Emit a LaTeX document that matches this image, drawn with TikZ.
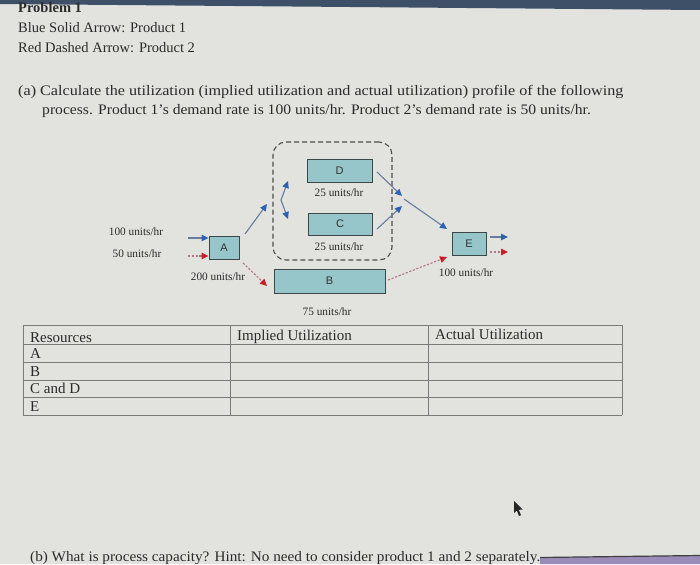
\documentclass[tikz,border=0pt]{standalone}
\usepackage{fontspec}
\setmainfont{Liberation Serif}
\newfontfamily\boxfont{Liberation Sans}
\newfontfamily\stretchA[FakeStretch=1.115]{Liberation Serif}
\newfontfamily\stretchB[FakeStretch=1.077]{Liberation Serif}
\newfontfamily\stretchC[FakeStretch=1.05]{Liberation Serif}
\usetikzlibrary{arrows.meta}
\definecolor{bgc}{HTML}{E2E2DF}
\definecolor{bandc}{HTML}{3E5068}
\definecolor{boxfill}{HTML}{96C6C9}
\definecolor{boxline}{HTML}{3C4848}
\definecolor{shaftblue}{HTML}{687C9C}
\definecolor{tipblue}{HTML}{2C63B0}
\definecolor{shaftred}{HTML}{B07880}
\definecolor{tipred}{HTML}{C81E28}
\definecolor{tabline}{HTML}{7A7A7A}
\definecolor{txt}{HTML}{2A2A2A}
\definecolor{purp}{HTML}{9A8CB8}
\tikzset{
  mainfont/.style={font=\fontsize{14.5}{17}\selectfont, text=txt, inner sep=0pt},
  tabfont/.style={font=\fontsize{15}{18}\selectfont, text=txt, inner sep=0pt, anchor=base west},
  lab/.style={font=\fontsize{11.3}{13}\selectfont, text=txt, inner sep=0pt},
  stbox/.style={draw=boxline, fill=boxfill, line width=1pt, inner sep=0pt,
    font=\boxfont\fontsize{11}{13}\selectfont, text=black!80},
  pone/.style={draw=shaftblue, line width=1.1pt, -{Triangle[length=7pt,width=6.5pt,color=tipblue]}},
  ptwo/.style={draw=shaftred, line width=1.1pt, dash pattern=on 2.2pt off 1.6pt,
    -{Triangle[length=7pt,width=6.5pt,color=tipred]}},
  tabrule/.style={draw=tabline, line width=0.8pt}
}
\begin{document}
\begin{tikzpicture}[x=1pt,y=-1pt]
\useasboundingbox (0,0) rectangle (700,564);
\fill[bgc] (0,0) rectangle (700,564);
\fill[bandc] (0,0) -- (700,0) -- (700,10) -- (0,4) -- cycle;

% header texts
\node[mainfont, anchor=base west, font=\bfseries\fontsize{14.5}{17}\selectfont] (t0) at (18,13) {Problem 1};
\node[mainfont, anchor=base west] (t1) at (18,33) {Blue Solid Arrow: Product 1};
\node[mainfont, anchor=base west] (t2) at (18,53) {Red Dashed Arrow: Product 2};
\node[mainfont, anchor=base west, font=\stretchA\fontsize{14.5}{17}\selectfont] (t3) at (18,96) {(a) Calculate the utilization (implied utilization and actual utilization) profile of the following};
\node[mainfont, anchor=base west, font=\stretchB\fontsize{14.5}{17}\selectfont] (t4) at (42,115) {process. Product 1’s demand rate is 100 units/hr. Product 2’s demand rate is 50 units/hr.};

% diagram
\node[draw=black!70, line width=1.1pt, dash pattern=on 5pt off 3pt, rounded corners=13pt,
  minimum width=119pt, minimum height=118pt, inner sep=0pt] (CD) at (332.5,201) {};
\node[stbox, minimum width=65pt, minimum height=23pt] (D) at (339.5,170.5) {D};
\node[stbox, minimum width=64pt, minimum height=22pt] (C) at (340,224) {C};
\node[stbox, minimum width=111pt, minimum height=24pt] (B) at (329.5,281) {B};
\node[stbox, minimum width=30pt, minimum height=23pt] (A) at (224,247.5) {A};
\node[stbox, minimum width=34pt, minimum height=23pt] (E) at (469,243.5) {E};

\node[lab] (l1) at (136,232) {100 units/hr};
\node[lab] (l2) at (137,254) {50 units/hr};
\node[lab] (l3) at (218,277) {200 units/hr};
\node[lab] (l4) at (339,193) {25 units/hr};
\node[lab] (l5) at (339,247) {25 units/hr};
\node[lab] (l6) at (327,312) {75 units/hr};
\node[lab] (l7) at (466,273) {100 units/hr};

\coordinate (in1) at (188,238);
\coordinate (in2) at (188,256);
\coordinate (a1s) at (245,234);
\coordinate (a1e) at (267,204);
\coordinate (sp) at (281,200);
\coordinate (spu) at (288,181);
\coordinate (spd) at (288,219);
\coordinate (ds) at (377,172);
\coordinate (de) at (402,196);
\coordinate (cs) at (377,229);
\coordinate (ce) at (402,206);
\coordinate (ms) at (404,199);
\coordinate (me) at (447,229);
\coordinate (o1s) at (490,237);
\coordinate (o1e) at (508,237);
\coordinate (o2s) at (490,252);
\coordinate (o2e) at (508,252);
\coordinate (abs) at (243,263);
\coordinate (abe) at (267,286);
\coordinate (bes) at (388,280);
\coordinate (bee) at (447,257);

\draw[pone] (in1) -- (in1 -| A.west);
\draw[ptwo] (in2) -- (in2 -| A.west);
\draw[pone] (a1s) -- (a1e);
\draw[pone] (sp) -- (spu);
\draw[pone] (sp) -- (spd);
\draw[pone] (ds) -- (de);
\draw[pone] (cs) -- (ce);
\draw[pone] (ms) -- (me);
\draw[pone] (o1s) -- (o1e);
\draw[ptwo] (o2s) -- (o2e);
\draw[ptwo] (abs) -- (abe);
\draw[ptwo] (bes) -- (bee);

% table
\foreach \yy in {325,344,362,380,397,415} \draw[tabrule] (23,\yy) -- (622,\yy);
\foreach \xx in {23,230,428,622} \draw[tabrule] (\xx,325) -- (\xx,415);
\node[tabfont] (r0) at (30,342) {Resources};
\node[tabfont] (r1) at (30,358) {A};
\node[tabfont] (r2) at (30,376) {B};
\node[tabfont] (r3) at (30,393) {C and D};
\node[tabfont] (r4) at (30,411) {E};
\node[tabfont] (h1) at (237,340) {Implied Utilization};
\node[tabfont] (h2) at (435,339) {Actual Utilization};

% cursor
\fill[black!85] (514,501) -- (514,513) -- (516.8,510.5) -- (519,516) -- (521,515.2) -- (518.8,509.8) -- (522.5,509.5) -- cycle;

% bottom
\node[mainfont, anchor=base west, font=\stretchC\fontsize{14.5}{17}\selectfont] (t5) at (30,561) {(b) What is process capacity? Hint: No need to consider product 1 and 2 separately.};
\fill[purp] (540,557.5) -- (700,555.5) -- (700,564) -- (540,564) -- cycle;
\draw[black!75, line width=1.2pt] (540,557.5) -- (700,555.5);
\end{tikzpicture}
\end{document}
